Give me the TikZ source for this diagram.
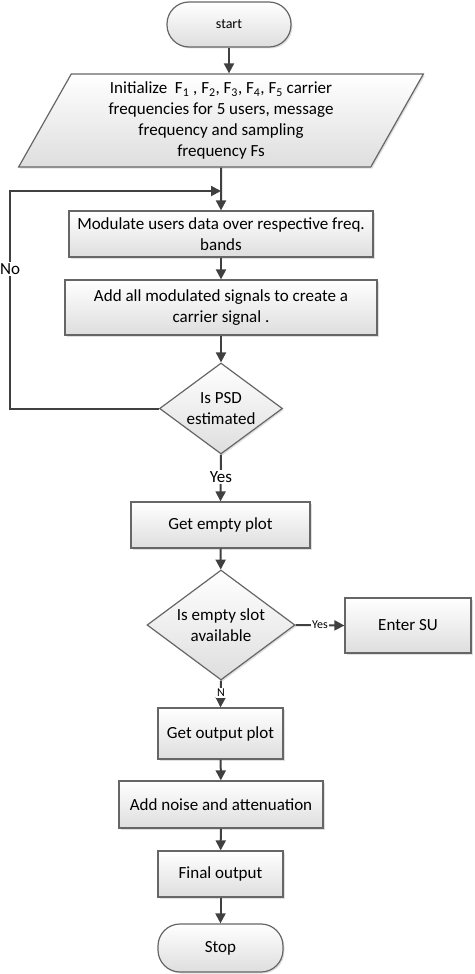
\documentclass[tikz,border=0pt]{standalone}
\usepackage{fontspec}
\setmainfont{Carlito}
\usetikzlibrary{shapes.geometric,shadows,arrows.meta}
\begin{document}
\begin{tikzpicture}[x=1pt,y=-1pt,
  every node/.style={font=\fontsize{17}{21}\selectfont},
  base/.style={draw=black!60, line width=1.2pt, top color=white, bottom color=black!13,
    drop shadow={shadow xshift=1.5pt, shadow yshift=-1.5pt, opacity=0.25},
    align=center, inner sep=0pt},
  procbox/.style={base, rectangle},
  term/.style={base, rectangle, rounded corners=22pt},
  decision/.style={base, diamond, aspect=1.35},
  conn/.style={draw=black!75, line width=2pt, -{Triangle[length=10pt,width=10pt]}},
  lbl/.style={fill=white, inner sep=1pt},
  small/.style={font=\fontsize{12}{14}\selectfont}
]
\useasboundingbox (0,0) rectangle (474,974);

\node[term, minimum width=124pt, minimum height=45pt, font=\fontsize{14}{17}\selectfont] (start) at (229,24.5) {start};
\node[base, trapezium, trapezium left angle=63, trapezium right angle=117, trapezium stretches=true,
      minimum width=406pt, minimum height=93pt] (para) at (221,120.5)
  {Initialize\ \ F\textsubscript{1} , F\textsubscript{2}, F\textsubscript{3}, F\textsubscript{4}, F\textsubscript{5} carrier\\
   frequencies for 5 users, message\\ frequency and sampling\\ frequency Fs};
\node[procbox, minimum width=304pt, minimum height=46pt] (box1) at (221,234)
  {Modulate users data over respective freq.\\ bands};
\node[procbox, minimum width=312pt, minimum height=55pt] (box2) at (221,307.5)
  {Add all modulated signals to create a\\ carrier signal .};
\node[decision, minimum width=123pt, minimum height=91pt] (d1) at (221,408.5)
  {Is PSD\\ estimated};
\node[procbox, minimum width=179pt, minimum height=46pt] (box3) at (220.5,525)
  {Get empty plot};
\node[decision, minimum width=148pt, minimum height=110pt] (d2) at (221,625)
  {Is empty slot\\ available};
\node[procbox, minimum width=126pt, minimum height=55pt] (enter) at (408,625.5)
  {Enter SU};
\node[procbox, minimum width=125pt, minimum height=51pt] (box4) at (220.5,733.5)
  {Get output plot};
\node[procbox, minimum width=204pt, minimum height=47pt] (box5) at (221,804.5)
  {Add noise and attenuation};
\node[procbox, minimum width=125pt, minimum height=46pt] (box6) at (220.5,874)
  {Final output};
\node[term, minimum width=125pt, minimum height=48pt] (stop) at (220.5,948)
  {Stop};

\coordinate (m) at (221,191);
\coordinate (lc) at (10,408.5);

\draw[conn] (start.south) -- (start.south |- para.north);
\draw[conn] (para.south) -- (box1.north);
\draw[conn] (box1) -- (box2);
\draw[conn] (box2) -- (d1);
\draw[conn] (d1.west) -- (lc) |- (m);
\draw[conn] (d1.south) -- (box3.north);
\draw[conn] (box3) -- (d2);
\draw[conn] (d2.east) -- (enter.west);
\draw[conn] (d2.south) -- (box4.north);
\draw[conn] (box4) -- (box5);
\draw[conn] (box5) -- (box6);
\draw[conn] (box6) -- (stop);

\node[lbl] (no) at (10,269) {No};
\node[lbl] (yes1) at (221,477) {Yes};
\node[lbl, small] (yes2) at (320,625) {Yes};
\node[lbl, small] (n) at (221,693) {N};
\end{tikzpicture}
\end{document}
